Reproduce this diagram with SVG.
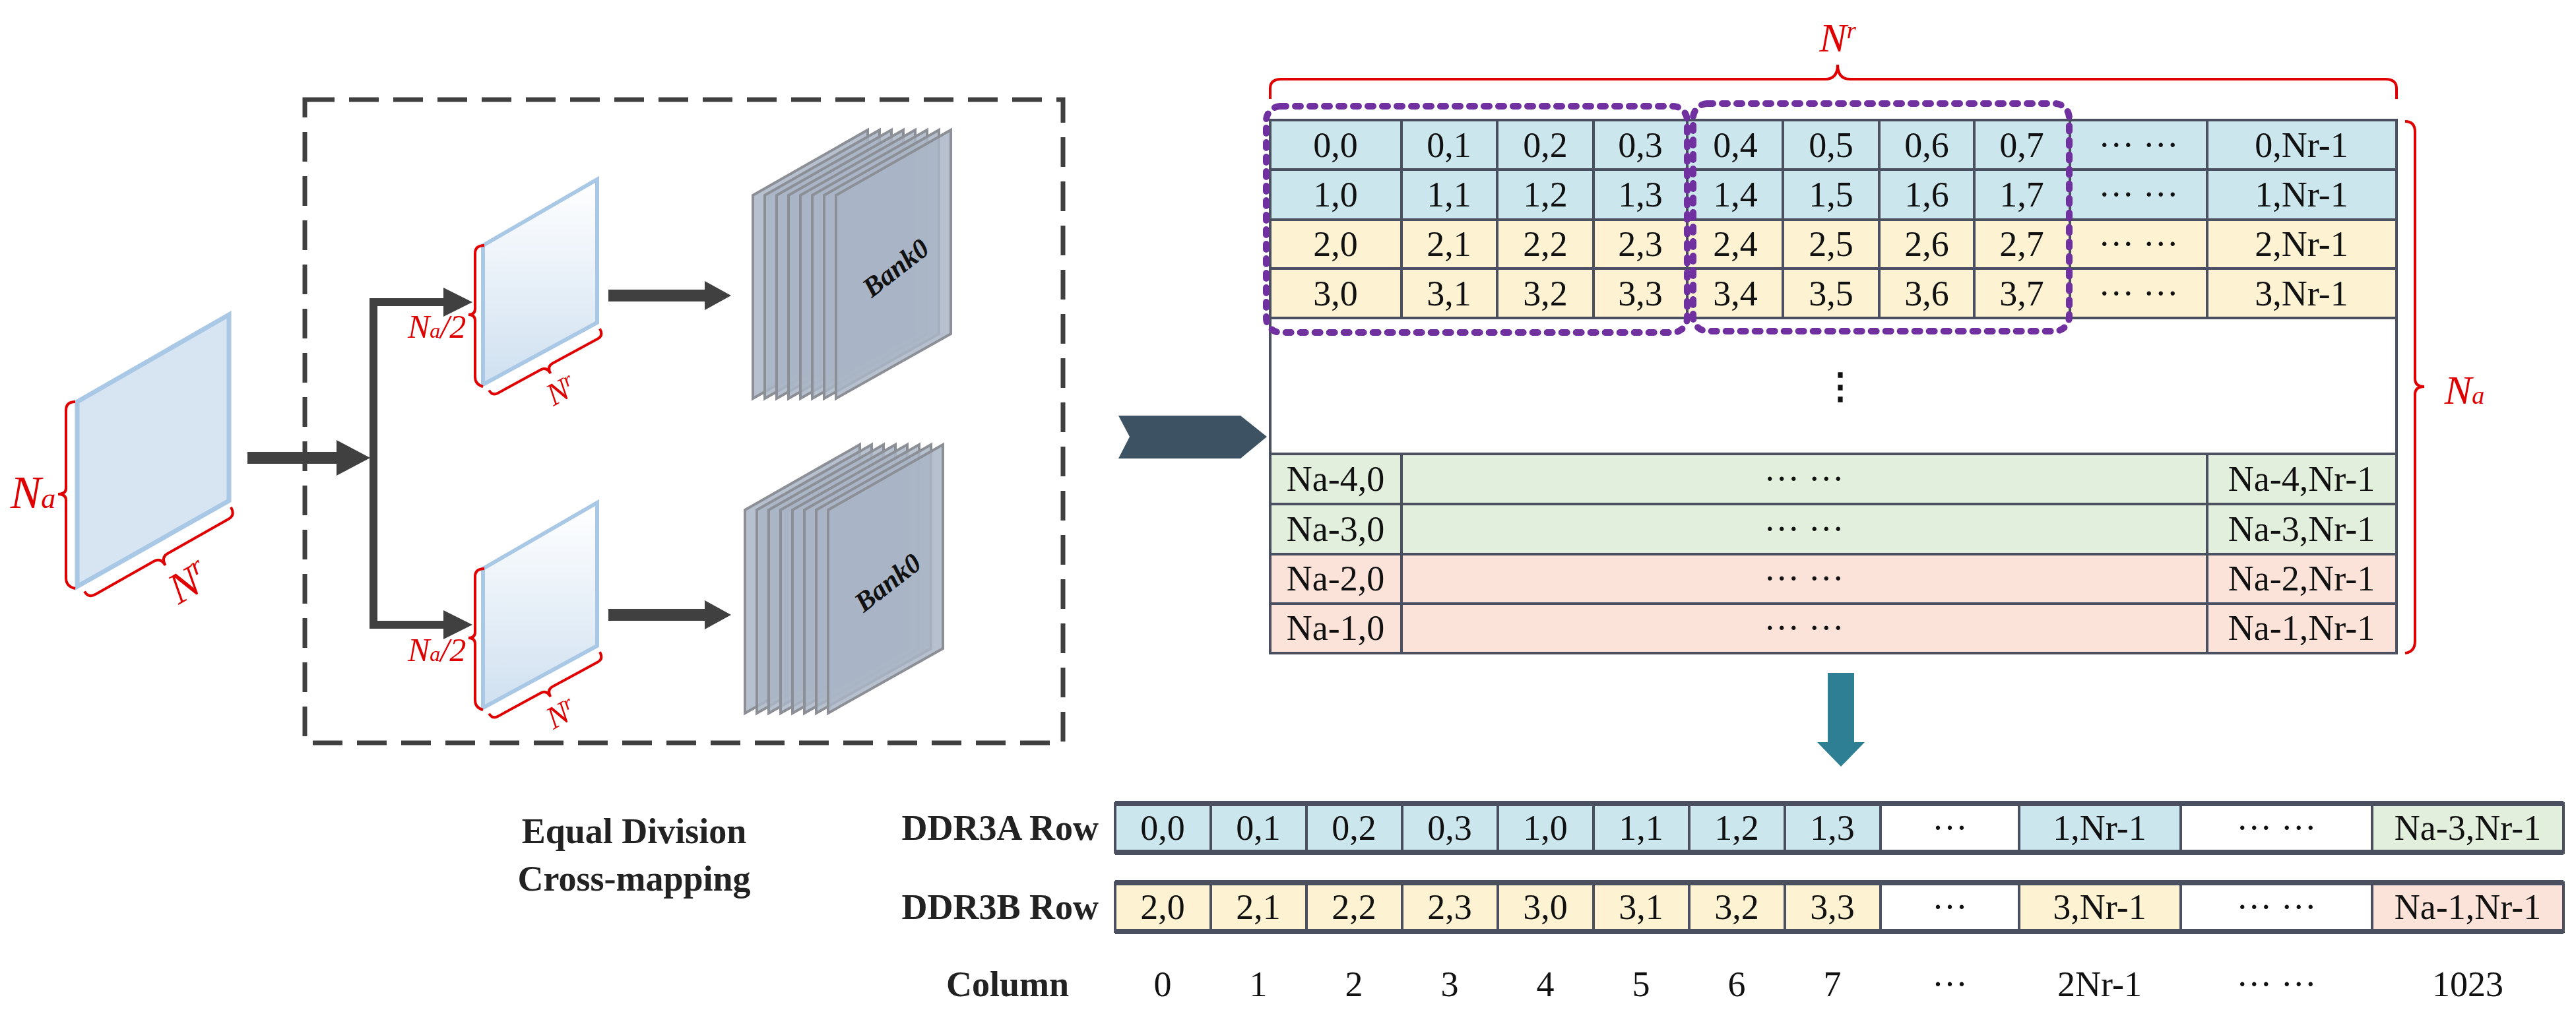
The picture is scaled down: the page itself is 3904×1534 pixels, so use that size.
<svg xmlns="http://www.w3.org/2000/svg" width="3904" height="1534" viewBox="0 0 3904 1534">
<style>
.t{font-family:"Liberation Serif","DejaVu Serif",serif;font-size:54px;fill:#111;text-anchor:middle}
.lb{font-family:"Liberation Serif","DejaVu Serif",serif;font-weight:bold;font-size:54px;fill:#222}
.red{font-family:"Liberation Serif",serif;font-style:italic;fill:#e00000}
.br{fill:none;stroke:#e00000;stroke-width:4}
.cell{stroke:#4a5060;stroke-width:4}
.bl{fill:#cce6ee}.ye{fill:#fdf3d3}.gr{fill:#e2efdc}.pk{fill:#fce3da}.wh{fill:#fff}
.sheet{fill:#a9b5c6;fill-opacity:0.85;stroke:#8c9096;stroke-width:4}
.dk{fill:#404040}
.pur{fill:none;stroke:#7030a0;stroke-width:10;stroke-dasharray:8 14;stroke-linecap:round}
</style>
<defs>
<linearGradient id="g" x1="0" y1="0" x2="0" y2="1"><stop offset="0" stop-color="#ffffff"/><stop offset="1" stop-color="#cfe0f0"/></linearGradient>
<g id="stack">
<polygon class="sheet" points="0,99 174,0 174,309 0,407"/>
<polygon class="sheet" points="18,99 192,0 192,309 18,407"/>
<polygon class="sheet" points="36,99 210,0 210,309 36,407"/>
<polygon class="sheet" points="54,99 228,0 228,309 54,407"/>
<polygon class="sheet" points="72,99 246,0 246,309 72,407"/>
<polygon class="sheet" points="90,99 264,0 264,309 90,407"/>
<polygon class="sheet" points="108,99 282,0 282,309 108,407"/>
<polygon class="sheet" points="126,99 300,0 300,309 126,407"/>
<text transform="translate(225,220) rotate(-38)" style="font-family:'Liberation Serif',serif;font-style:italic;font-weight:bold;font-size:42px;fill:#111" text-anchor="middle">Bank0</text>
</g>
<g id="half">
<polygon points="0,100 173,0 173,217 0,311" fill="url(#g)" stroke="#a9c8e6" stroke-width="6"/>
<path class="br" d="M2,100 Q-12,100 -12,112 L-12,196 Q-12,205 -22,205 Q-12,205 -12,214 L-12,299 Q-12,311 0,314"/>
<g transform="translate(0,311) rotate(-28.5)"><path class="br" d="M4,12 Q4,22 14,22 L88,22 Q98,22 98,34 Q98,22 108,22 L186,22 Q196,22 196,10"/>
<text class="red" x="100" y="80" font-size="48" text-anchor="middle">N<tspan font-size="30" dy="-16">r</tspan></text></g>
<text class="red" x="-70" y="240" font-size="50" text-anchor="middle">N<tspan font-size="32">a</tspan><tspan>/2</tspan></text>
</g>
</defs>

<g id="input">
<polygon points="117,609 347,477 347,759 117,889" fill="#d7e5f3" stroke="#a9c8e6" stroke-width="7"/>
<path class="br" d="M114,609 Q100,609 100,622 L100,740 Q100,749 88,749 Q100,749 100,758 L100,876 Q100,889 114,892"/>
<text class="red" x="50" y="770" font-size="70" text-anchor="middle">N<tspan font-size="44">a</tspan></text>
<g transform="translate(117,889) rotate(-29.5)"><path class="br" d="M6,12 Q6,24 18,24 L120,24 Q132,24 132,38 Q132,24 144,24 L250,24 Q262,24 262,10"/>
<text class="red" x="150" y="100" font-size="66" text-anchor="middle">N<tspan font-size="40" dy="-26">r</tspan></text></g>
</g>

<g id="split">
<rect x="462" y="151" width="1149" height="975" fill="none" stroke="#404040" stroke-width="7" stroke-dasharray="45 22"/>
<g id="half-top" transform="translate(732,272)"><use href="#half"/></g>
<g id="half-bottom" transform="translate(732,762)"><use href="#half"/></g>
<g id="bank-top" transform="translate(1141,197)"><use href="#stack"/></g>
<g id="bank-bottom" transform="translate(1129,674)"><use href="#stack"/></g>
</g>

<g id="connectors">
<rect class="dk" x="375" y="685" width="140" height="18"/>
<polygon class="dk" points="510,667 561,694 510,721"/>
<path d="M690,458 L566,458 L566,947 L690,947" fill="none" stroke="#404040" stroke-width="12"/>
<polygon class="dk" points="672,436 716,458 672,480"/>
<polygon class="dk" points="672,925 716,947 672,969"/>
<rect class="dk" x="922" y="439" width="152" height="18"/>
<polygon class="dk" points="1068,426 1108,448 1068,470"/>
<rect class="dk" x="922" y="923" width="152" height="18"/>
<polygon class="dk" points="1068,910 1108,932 1068,954"/>
<polygon points="1695,630 1880,630 1920,662 1880,695 1695,695 1712,662" fill="#3d5363"/>
<polygon points="2770,1020 2810,1020 2810,1125 2826,1125 2790,1162 2754,1125 2770,1125" fill="#2e7f93"/>
</g>

<g id="matrix">
<g class="cell">
<rect class="bl" x="1925" y="182" width="1707" height="75"/>
<rect class="bl" x="1925" y="257" width="1707" height="76"/>
<rect class="ye" x="1925" y="333" width="1707" height="74"/>
<rect class="ye" x="1925" y="407" width="1707" height="75"/>
<rect class="wh" x="1925" y="482" width="1707" height="206"/>
<rect class="gr" x="1925" y="688" width="1707" height="76"/>
<rect class="gr" x="1925" y="764" width="1707" height="76"/>
<rect class="pk" x="1925" y="840" width="1707" height="75"/>
<rect class="pk" x="1925" y="915" width="1707" height="75"/>
<path fill="none" d="M2124,182V482M2269,182V482M2415,182V482M2557,182V482M2702,182V482M2848,182V482M2992,182V482M3137,182V482M3345,182V482M2124,688V990M3345,688V990"/>
</g>
<g class="t">
<text x="2024" y="238">0,0</text><text x="2196" y="238">0,1</text><text x="2342" y="238">0,2</text><text x="2486" y="238">0,3</text><text x="2630" y="238">0,4</text><text x="2775" y="238">0,5</text><text x="2920" y="238">0,6</text><text x="3064" y="238">0,7</text><text x="3241" y="238">··· ···</text><text x="3488" y="238">0,Nr-1</text>
<text x="2024" y="313">1,0</text><text x="2196" y="313">1,1</text><text x="2342" y="313">1,2</text><text x="2486" y="313">1,3</text><text x="2630" y="313">1,4</text><text x="2775" y="313">1,5</text><text x="2920" y="313">1,6</text><text x="3064" y="313">1,7</text><text x="3241" y="313">··· ···</text><text x="3488" y="313">1,Nr-1</text>
<text x="2024" y="388">2,0</text><text x="2196" y="388">2,1</text><text x="2342" y="388">2,2</text><text x="2486" y="388">2,3</text><text x="2630" y="388">2,4</text><text x="2775" y="388">2,5</text><text x="2920" y="388">2,6</text><text x="3064" y="388">2,7</text><text x="3241" y="388">··· ···</text><text x="3488" y="388">2,Nr-1</text>
<text x="2024" y="463">3,0</text><text x="2196" y="463">3,1</text><text x="2342" y="463">3,2</text><text x="2486" y="463">3,3</text><text x="2630" y="463">3,4</text><text x="2775" y="463">3,5</text><text x="2920" y="463">3,6</text><text x="3064" y="463">3,7</text><text x="3241" y="463">··· ···</text><text x="3488" y="463">3,Nr-1</text>
<text x="2789" y="604" font-weight="bold">⋮</text>
<text x="2024" y="744">Na-4,0</text><text x="2734" y="744">··· ···</text><text x="3488" y="744">Na-4,Nr-1</text>
<text x="2024" y="820">Na-3,0</text><text x="2734" y="820">··· ···</text><text x="3488" y="820">Na-3,Nr-1</text>
<text x="2024" y="895">Na-2,0</text><text x="2734" y="895">··· ···</text><text x="3488" y="895">Na-2,Nr-1</text>
<text x="2024" y="970">Na-1,0</text><text x="2734" y="970">··· ···</text><text x="3488" y="970">Na-1,Nr-1</text>
</g>
<rect class="pur" x="1919" y="161" width="638" height="343" rx="22"/>
<rect class="pur" x="2566" y="157" width="570" height="345" rx="22"/>
<path class="br" d="M1925,150 L1925,134 Q1925,120 1942,120 L2766,120 Q2785,120 2785,98 Q2785,120 2804,120 L3615,120 Q3632,120 3632,134 L3632,150"/>
<text class="red" x="2785" y="78" font-size="62" text-anchor="middle">N<tspan font-size="36" dy="-20">r</tspan></text>
<path class="br" d="M3645,184 Q3660,184 3660,200 L3660,574 Q3660,586 3674,586 Q3660,586 3660,598 L3660,972 Q3660,988 3645,990"/>
<text class="red" x="3735" y="612" font-size="62" text-anchor="middle">N<tspan font-size="38">a</tspan></text>
</g>

<g id="ddr">
<text class="lb" x="961" y="1278" text-anchor="middle">Equal Division</text>
<text class="lb" x="961" y="1350" text-anchor="middle">Cross-mapping</text>
<text class="lb" x="1665" y="1273" text-anchor="end">DDR3A Row</text>
<text class="lb" x="1665" y="1393" text-anchor="end">DDR3B Row</text>
<text class="lb" x="1620" y="1510" text-anchor="end">Column</text>
<g class="cell">
<rect class="bl" x="1690" y="1218" width="1160" height="74"/>
<rect class="wh" x="2850" y="1218" width="210" height="74"/>
<rect class="bl" x="3060" y="1218" width="245" height="74"/>
<rect class="wh" x="3305" y="1218" width="290" height="74"/>
<rect class="gr" x="3595" y="1218" width="290" height="74"/>
<rect class="ye" x="1690" y="1338" width="1160" height="74"/>
<rect class="wh" x="2850" y="1338" width="210" height="74"/>
<rect class="ye" x="3060" y="1338" width="245" height="74"/>
<rect class="wh" x="3305" y="1338" width="290" height="74"/>
<rect class="pk" x="3595" y="1338" width="290" height="74"/>
<path fill="none" d="M1835,1218V1292M1980,1218V1292M2125,1218V1292M2270,1218V1292M2415,1218V1292M2560,1218V1292M2705,1218V1292M1835,1338V1412M1980,1338V1412M2125,1338V1412M2270,1338V1412M2415,1338V1412M2560,1338V1412M2705,1338V1412"/>
<path fill="none" stroke-width="8" d="M1690,1218H3885M1690,1292H3885M1690,1338H3885M1690,1412H3885"/>
</g>
<g class="t">
<text x="1762" y="1273">0,0</text><text x="1907" y="1273">0,1</text><text x="2052" y="1273">0,2</text><text x="2197" y="1273">0,3</text><text x="2342" y="1273">1,0</text><text x="2487" y="1273">1,1</text><text x="2632" y="1273">1,2</text><text x="2777" y="1273">1,3</text><text x="2955" y="1273">···</text><text x="3182" y="1273">1,Nr-1</text><text x="3450" y="1273">··· ···</text><text x="3740" y="1273">Na-3,Nr-1</text>
<text x="1762" y="1393">2,0</text><text x="1907" y="1393">2,1</text><text x="2052" y="1393">2,2</text><text x="2197" y="1393">2,3</text><text x="2342" y="1393">3,0</text><text x="2487" y="1393">3,1</text><text x="2632" y="1393">3,2</text><text x="2777" y="1393">3,3</text><text x="2955" y="1393">···</text><text x="3182" y="1393">3,Nr-1</text><text x="3450" y="1393">··· ···</text><text x="3740" y="1393">Na-1,Nr-1</text>
<text x="1762" y="1510">0</text><text x="1907" y="1510">1</text><text x="2052" y="1510">2</text><text x="2197" y="1510">3</text><text x="2342" y="1510">4</text><text x="2487" y="1510">5</text><text x="2632" y="1510">6</text><text x="2777" y="1510">7</text><text x="2955" y="1510">···</text><text x="3182" y="1510">2Nr-1</text><text x="3450" y="1510">··· ···</text><text x="3740" y="1510">1023</text>
</g>
</g>
</svg>
